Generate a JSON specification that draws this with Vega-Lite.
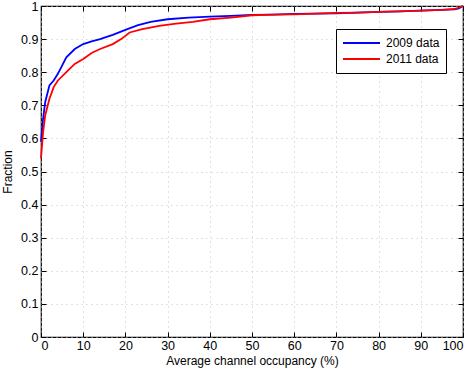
{
  "$schema": "https://vega.github.io/schema/vega-lite/v6.json",
  "width": 422,
  "height": 331,
  "autosize": {"type": "none"},
  "padding": {"left": 41, "top": 6, "right": 11, "bottom": 35},
  "background": "white",
  "config": {
    "font": "Liberation Sans",
    "view": {"stroke": "black", "strokeWidth": 1.2},
    "axis": {
      "domain": false,
      "gridColor": "#c4c4c4",
      "gridDash": [1, 4],
      "gridWidth": 1,
      "gridOpacity": 1,
      "tickColor": "black",
      "tickSize": -5,
      "labelColor": "black",
      "labelFontSize": 12.5,
      "titleFontSize": 12,
      "titleFontWeight": "normal",
      "titleColor": "black"
    }
  },
  "data": {
    "values": [
      {"x": 0, "y": 0.59, "s": "2009 data"},
      {"x": 0.5, "y": 0.66, "s": "2009 data"},
      {"x": 1, "y": 0.71, "s": "2009 data"},
      {"x": 2, "y": 0.76, "s": "2009 data"},
      {"x": 3, "y": 0.775, "s": "2009 data"},
      {"x": 4, "y": 0.795, "s": "2009 data"},
      {"x": 5, "y": 0.82, "s": "2009 data"},
      {"x": 6, "y": 0.845, "s": "2009 data"},
      {"x": 8, "y": 0.87, "s": "2009 data"},
      {"x": 10, "y": 0.885, "s": "2009 data"},
      {"x": 12, "y": 0.893, "s": "2009 data"},
      {"x": 14, "y": 0.9, "s": "2009 data"},
      {"x": 17, "y": 0.913, "s": "2009 data"},
      {"x": 20, "y": 0.928, "s": "2009 data"},
      {"x": 23, "y": 0.942, "s": "2009 data"},
      {"x": 26, "y": 0.952, "s": "2009 data"},
      {"x": 30, "y": 0.96, "s": "2009 data"},
      {"x": 35, "y": 0.965, "s": "2009 data"},
      {"x": 40, "y": 0.968, "s": "2009 data"},
      {"x": 45, "y": 0.97, "s": "2009 data"},
      {"x": 50, "y": 0.973, "s": "2009 data"},
      {"x": 55, "y": 0.974, "s": "2009 data"},
      {"x": 60, "y": 0.976, "s": "2009 data"},
      {"x": 65, "y": 0.977, "s": "2009 data"},
      {"x": 70, "y": 0.978, "s": "2009 data"},
      {"x": 75, "y": 0.98, "s": "2009 data"},
      {"x": 80, "y": 0.982, "s": "2009 data"},
      {"x": 85, "y": 0.984, "s": "2009 data"},
      {"x": 90, "y": 0.986, "s": "2009 data"},
      {"x": 95, "y": 0.988, "s": "2009 data"},
      {"x": 98, "y": 0.99, "s": "2009 data"},
      {"x": 99, "y": 0.993, "s": "2009 data"},
      {"x": 100, "y": 1.0, "s": "2009 data"},
      {"x": 0, "y": 0.54, "s": "2011 data"},
      {"x": 0.5, "y": 0.62, "s": "2011 data"},
      {"x": 1, "y": 0.67, "s": "2011 data"},
      {"x": 2, "y": 0.72, "s": "2011 data"},
      {"x": 3, "y": 0.755, "s": "2011 data"},
      {"x": 4, "y": 0.775, "s": "2011 data"},
      {"x": 6, "y": 0.8, "s": "2011 data"},
      {"x": 8, "y": 0.825, "s": "2011 data"},
      {"x": 10, "y": 0.84, "s": "2011 data"},
      {"x": 12, "y": 0.858, "s": "2011 data"},
      {"x": 14, "y": 0.87, "s": "2011 data"},
      {"x": 17, "y": 0.885, "s": "2011 data"},
      {"x": 19, "y": 0.9, "s": "2011 data"},
      {"x": 21, "y": 0.92, "s": "2011 data"},
      {"x": 24, "y": 0.93, "s": "2011 data"},
      {"x": 28, "y": 0.94, "s": "2011 data"},
      {"x": 32, "y": 0.947, "s": "2011 data"},
      {"x": 36, "y": 0.952, "s": "2011 data"},
      {"x": 40, "y": 0.96, "s": "2011 data"},
      {"x": 45, "y": 0.965, "s": "2011 data"},
      {"x": 50, "y": 0.972, "s": "2011 data"},
      {"x": 55, "y": 0.974, "s": "2011 data"},
      {"x": 60, "y": 0.975, "s": "2011 data"},
      {"x": 65, "y": 0.977, "s": "2011 data"},
      {"x": 70, "y": 0.979, "s": "2011 data"},
      {"x": 75, "y": 0.98, "s": "2011 data"},
      {"x": 80, "y": 0.982, "s": "2011 data"},
      {"x": 85, "y": 0.984, "s": "2011 data"},
      {"x": 90, "y": 0.986, "s": "2011 data"},
      {"x": 95, "y": 0.988, "s": "2011 data"},
      {"x": 98, "y": 0.991, "s": "2011 data"},
      {"x": 100, "y": 1.0, "s": "2011 data"}
    ]
  },
  "layer": [
    {
      "mark": {"type": "line", "strokeWidth": 1.8},
      "encoding": {
        "x": {
          "field": "x", "type": "quantitative",
          "scale": {"domain": [0, 100], "nice": false},
          "axis": {"values": [0,10,20,30,40,50,60,70,80,90,100], "title": "Average channel occupancy (%)", "labelPadding": 7, "titlePadding": 4}
        },
        "y": {
          "field": "y", "type": "quantitative",
          "scale": {"domain": [0, 1], "nice": false},
          "axis": {"values": [0,0.1,0.2,0.3,0.4,0.5,0.6,0.7,0.8,0.9,1], "labelExpr": "datum.value == 0 || datum.value == 1 ? format(datum.value, 'd') : format(datum.value, '.1f')", "title": "Fraction", "labelPadding": 8, "titlePadding": 6}
        },
        "color": {
          "field": "s", "type": "nominal",
          "scale": {"domain": ["2009 data", "2011 data"], "range": ["#0000ff", "#ff0000"]},
          "legend": {
            "title": null,
            "orient": "none",
            "legendX": 295,
            "legendY": 23,
            "symbolType": "stroke",
            "symbolStrokeWidth": 1.8,
            "symbolSize": 1369,
            "clipHeight": 16,
            "labelOffset": 5,
            "labelFontSize": 12,
            "labelColor": "black",
            "strokeColor": "black",
            "fillColor": "white",
            "padding": 6,
            "rowPadding": 0
          }
        }
      }
    },
    {
      "mark": {"type": "rule", "opacity": 0},
      "encoding": {
        "x": {
          "field": "x", "type": "quantitative",
          "scale": {"domain": [0, 100], "nice": false},
          "axis": {"orient": "top", "values": [0,10,20,30,40,50,60,70,80,90,100], "labels": false, "grid": false, "title": null}
        },
        "y": {
          "field": "y", "type": "quantitative",
          "scale": {"domain": [0, 1], "nice": false},
          "axis": {"orient": "right", "values": [0,0.1,0.2,0.3,0.4,0.5,0.6,0.7,0.8,0.9,1], "labels": false, "grid": false, "title": null}
        }
      }
    }
  ],
  "resolve": {"axis": {"x": "independent", "y": "independent"}}
}
